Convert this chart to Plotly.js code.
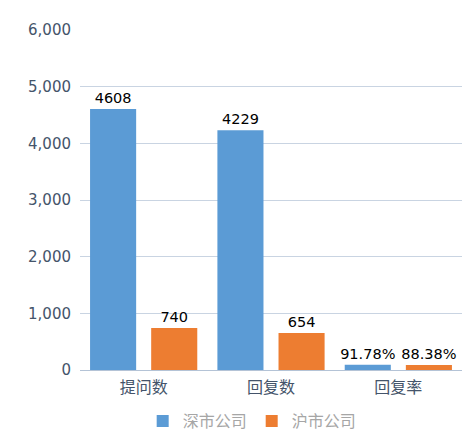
<!DOCTYPE html>
<html>
<head>
<meta charset="utf-8">
<script src="https://cdn.plot.ly/plotly-3.0.1.min.js"></script>
<style>
  html, body { margin: 0; padding: 0; background: #fff; }
  #chart { width: 467px; height: 439px; }
</style>
</head>
<body>
<div id="chart"></div>
<script>
const categories = ["提问数", "回复数", "回复率"];
const shenValues = [4608, 4229, 91.78];
const huValues = [740, 654, 88.38];
const shenLabels = ["4608", "4229", "91.78%"];
const huLabels = ["740", "654", "88.38%"];
const yTicks = [0, 1000, 2000, 3000, 4000, 5000, 6000];

const cjk = '"Noto Sans CJK SC", "Microsoft YaHei", sans-serif';
const num = '"DejaVu Sans", "Noto Sans CJK SC", sans-serif';

function barTrace(name, values, labels, color) {
    return {
        type: "bar",
        name,
        x: categories,
        y: values,
        text: labels,
        textposition: "outside",
        constraintext: "none",
        textfont: { color: "#000", size: 14.5, family: num },
        cliponaxis: false,
        marker: { color },
        hoverinfo: "x+y+name",
    };
}

const traces = [
    barTrace("深市公司", shenValues, shenLabels, "#5B9BD5"),
    barTrace("沪市公司", huValues, huLabels, "#ED7D31"),
];

const layout = {
    width: 467,
    height: 439,
    paper_bgcolor: "#fff",
    plot_bgcolor: "#fff",
    margin: { t: 30, b: 69, l: 80, r: 5 },
    font: { family: cjk, size: 14, color: "#44546A" },
    barmode: "group",
    bargap: 0.04,
    bargroupgap: 0.246,
    showlegend: true,
    legend: {
        orientation: "h",
        xref: "container", x: 0.54, xanchor: "center",
        yref: "container", y: 0.041, yanchor: "middle",
        font: { size: 16, color: "#A6A6A6", family: cjk },
        itemwidth: 30,
    },
    xaxis: {
        showgrid: false,
        showline: true,
        linecolor: "#B4C3D6",
        linewidth: 1,
        ticks: "",
        ticklabelstandoff: 3,
        tickfont: { size: 16, color: "#44546A", family: cjk },
        fixedrange: true,
    },
    yaxis: {
        range: [0, 6000],
        tickvals: yTicks,
        tickformat: ",d",
        showgrid: true,
        gridcolor: "#C9D4E2",
        zeroline: false,
        ticks: "",
        ticklabelstandoff: 8,
        tickfont: { size: 15, color: "#44546A", family: num },
        fixedrange: true,
    },
};

Plotly.newPlot("chart", traces, layout, { displayModeBar: false, staticPlot: true });
</script>
</body>
</html>
